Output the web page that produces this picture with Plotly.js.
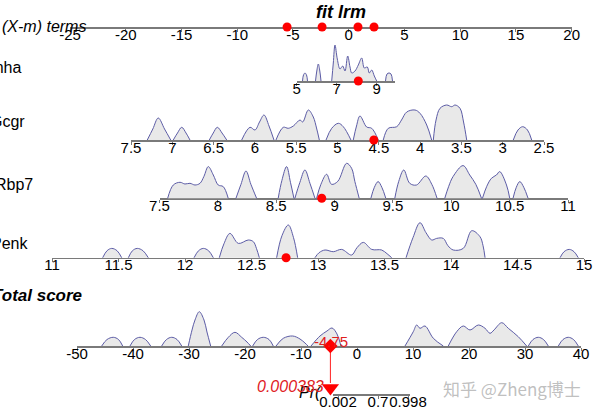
<!DOCTYPE html>
<html><head><meta charset="utf-8">
<script src="https://cdn.plot.ly/plotly-3.0.1.min.js"></script>
<style>html,body{margin:0;padding:0;background:#fff}#chart{width:600px;height:415px}</style>
</head><body><div id="chart"></div>
<script>
// ---------------- data ----------------
const pointsTicks = [-25,-20,-15,-10,-5,0,5,10,15,20];
const pointsRange = [-25, 20];
const termPoints = [-5.53, -2.39, 0.83, 2.27];

const enhaTicks = [5,7,9];
const enhaRange = [5, 9.915];
const enhaValue = 8.08;
const enhaX = [5.29,5.34,5.415,5.49,5.54,null,5.94,6.005,6.08,6.155,6.215,null,6.75,6.83,6.915,7.03,7.165,7.3,7.415,7.55,7.665,7.75,7.915,8.08,8.25,8.38,8.53,8.63,8.75,8.88,9.0,null,9.44,9.515,9.615,9.715,9.79];
const enhaD = [0,6,8,6,0,null,0,10,17,10,0,null,0,18,36,22,12,15,10,25,14,8,10,16,23,13,14,8,11,5,0,null,0,7,8,7,0];

const gcgrTicks = [7.5,7,6.5,6,5.5,5,4.5,4,3.5,3,2.5];
const gcgrRange = [7.5, 2.5];
const gcgrValue = 4.56;
const gcgrX = [7.303,7.236,7.170,7.094,7.019,null,6.988,6.937,6.886,6.834,6.786,null,6.552,6.504,6.455,6.398,6.341,null,6.160,6.059,5.999,5.944,5.890,5.829,5.769,null,5.745,5.656,5.596,5.535,5.454,5.421,5.353,5.293,5.254,5.220,null,5.139,5.070,4.990,4.930,4.837,null,4.809,4.770,4.728,4.647,4.586,4.506,null,4.446,4.385,4.283,4.225,4.162,4.062,4.001,3.920,3.860,null,3.840,3.807,3.759,3.678,3.617,3.577,3.517,3.474,3.436,null,2.872,2.815,2.758,2.700,2.649];
const gcgrD = [0,11,22,11,0,null,0,7,12.7,7,0,null,0,7,12.7,7,0,null,0,12.7,10,18,25,14,0,null,0,12.7,11.7,14,20,18,30,23,12,0,null,0,11.7,16.7,13.3,0,null,0,14,24,13,11.7,0,null,0,11.7,13.3,20,28,30,26.7,15,0,null,0,20,31.7,35,33.3,35,31.7,18,0,null,0,10,13.3,10,0];

const rbp7Ticks = [7.5,8,8.5,9,9.5,10,10.5,11];
const rbp7Range = [7.5, 11];
const rbp7Value = 8.89;
const rbp7X = [7.570,7.618,7.676,7.718,7.761,7.804,7.847,7.881,7.918,7.961,8.003,8.046,8.089,null,8.155,8.198,8.241,8.283,8.332,null,8.517,8.549,8.589,8.622,8.652,null,8.660,8.703,8.746,8.789,8.832,null,8.846,8.883,8.932,8.974,9.028,9.103,9.146,9.174,9.211,null,9.311,9.341,9.373,9.405,9.439,null,9.516,9.550,9.593,9.644,9.702,9.782,9.833,9.878,null,9.944,9.978,10.015,10.101,10.158,10.210,10.259,null,10.267,10.304,10.344,10.387,10.415,10.473,10.501,null,10.529,10.557,10.587,10.621,10.658];
const rbp7D = [0,13.3,16,14.3,15,13.3,15,22,31.7,23.3,13.3,11.7,0,null,0,14,27.3,14,0,null,0,18,31.7,16,0,null,0,16,28.3,15,0,null,0,14,24,14,17,35,30,16.7,0,null,0,11,16.7,11,0,null,0,17,28.3,15,13.3,22.3,14,0,null,0,12,21.7,32.7,23.3,14,0,null,0,12,20,23.3,26.7,13.3,0,null,0,11,16.7,11,0];

const penkTicks = [11,11.5,12,12.5,13,13.5,14,14.5,15];
const penkRange = [11, 15];
const penkValue = 12.76;
const penkX = [11.381,11.414,11.449,11.489,11.524,null,11.574,11.605,11.641,11.684,11.724,null,12.068,12.102,12.138,12.177,12.213,null,12.258,12.293,12.338,12.401,12.476,12.514,12.538,12.559,null,12.689,12.729,12.777,12.816,12.847,null,12.977,13.008,13.053,13.115,13.178,13.253,13.293,13.341,13.404,13.479,13.519,13.554,null,13.662,13.714,13.767,13.812,13.855,13.892,13.942,13.977,14.017,14.092,14.156,14.218,14.241,14.256,null,14.820,14.850,14.889,14.925,14.957];
const penkD = [0,7,9.3,7,0,null,0,7,9.3,7,0,null,0,7,9.3,7,0,null,0,14,24.3,14.3,17.7,16,9,0,null,0,22,32.7,20,0,null,0,5,7.7,6,8.3,2.7,10,15.3,8.3,7.7,4,0,null,0,20,35,25,17.7,19.3,19.3,12,7.7,9.3,27,21,12,0,null,0,6,8.3,6,0];

const totalTicks = [-50,-40,-30,-20,-10,0,10,20,30,40];
const totalRange = [-50, 40];
const totalValue = -4.75;
const totalLabel = '-4.75';
const totalX = [-45.59,-44.64,-43.52,-42.59,-41.84,null,-40.54,-39.73,-38.75,-37.77,-36.84,null,-34.88,-34.02,-33.09,-32.14,-31.30,null,-30.13,-29.46,-28.93,-28.16,-27.32,-26.79,-26.13,null,-24.16,-22.98,-21.79,-20.59,-19.64,-18.98,null,-18.63,-17.77,-16.73,-15.71,-14.95,null,-14.46,-13.16,-11.48,-10.18,-9.29,-8.75,null,-8.21,-6.61,-5.36,-4.46,-3.57,-2.86,null,8.57,10.05,10.66,11.25,12.14,13.63,15.41,null,16.30,17.80,18.98,20.18,21.66,22.86,23.75,24.46,25.84,27.02,28.80,30.30,null,30.59,31.43,32.38,33.30,34.16,null,35.95,36.79,37.73,38.66,39.52];
const totalD = [0,6.5,8.7,6.5,0,null,0,6.5,8.7,6.5,0,null,0,6.5,8.7,6.5,0,null,0,16,26,34.3,26,14,0,null,0,8.7,13.7,8.7,4,0,null,0,6.5,8.7,6.5,0,null,0,7.7,10,7,3,0,null,0,10,15,18,12,0,null,0,14.3,21,17.7,20,7.7,0,null,0,14.3,20,16,21,17.7,12.7,16,23.3,17.7,9.3,0,null,0,6.5,8.7,6.5,0,null,0,6.5,8.7,6.5,0];

const prRange = [-4.286, 9.464];          // in total-score units
const prTickScores = [-3.39, 3.75, 9.11];
const prTickLabels = ['0.002','0.7','0.998'];
const prValue = '0.000383';

const rowNames = ['(X-m) terms','Enha','Gcgr','Rbp7','Penk','Total score'];

// ---------------- layout helpers ----------------
const W = 600, H = 415;
const FONT = 'Liberation Sans, Arial, sans-serif';
const AXC = '#7a7a7a';
const rows = [
  {B:27,    x0:70,    x1:571.7, up:15, down:10, range:pointsRange, tv:pointsTicks},
  {B:81,    x0:296.7, x1:395,   up:45, down:10, range:enhaRange,   tv:enhaTicks},
  {B:140,   x0:131,   x1:544,   up:45, down:10, range:gcgrRange,   tv:gcgrTicks},
  {B:198.3, x0:159.5, x1:568,   up:45, down:10, range:rbp7Range,   tv:rbp7Ticks},
  {B:257.7, x0:52,    x1:584,   up:45, down:10, range:penkRange,   tv:penkTicks},
  {B:346,   x0:77,    x1:581,   up:45, down:55, range:totalRange,  tv:totalTicks},
  {B:394,   x0:333,   x1:410,   up:10, down:10, range:prRange,     tv:prTickScores, tt:prTickLabels}
];

const layout = {
  width: W, height: H,
  margin: {l:0, r:0, t:0, b:0, pad:0},
  paper_bgcolor: '#ffffff', plot_bgcolor: 'rgba(0,0,0,0)',
  showlegend: false,
  font: {family: FONT, color: '#000'},
  title: {text: '<b><i>fit lrm</i></b>', font: {family: FONT, size: 18, color: '#000'},
          x: 341/W, xanchor: 'center', xref: 'paper', y: 1 - 12/H, yanchor: 'middle'},
  annotations: []
};

rows.forEach((r, i) => {
  const k = i === 0 ? '' : String(i + 1);
  layout['xaxis' + k] = {
    domain: [r.x0 / W, r.x1 / W], range: r.range, anchor: 'free', position: (H - r.B) / H,
    showline: true, linecolor: AXC, linewidth: 1.6, ticks: 'outside', ticklen: 3, tickcolor: AXC, tickwidth: 1,
    tickmode: 'array', tickvals: r.tv, ticktext: r.tt || r.tv.map(String), tickangle: 0,
    tickfont: {family: FONT, size: 15, color: '#000'}, ticklabelstandoff: -10,
    showgrid: false, zeroline: false, fixedrange: true, layer: 'below traces'
  };
  layout['yaxis' + k] = {
    domain: [(H - (r.B + r.down)) / H, (H - (r.B - r.up)) / H], range: [-r.down, r.up],
    visible: false, fixedrange: true
  };
});

function segments(xs, ds) {
  const out = []; let cx = [], cy = [];
  xs.forEach((x, i) => {
    if (x === null) { if (cx.length) out.push([cx, cy]); cx = []; cy = []; }
    else { cx.push(x); cy.push(ds[i]); }
  });
  if (cx.length) out.push([cx, cy]);
  return out;
}

const traces = [];
const dens = [[enhaX, enhaD, 'x2', 'y2'], [gcgrX, gcgrD, 'x3', 'y3'], [rbp7X, rbp7D, 'x4', 'y4'],
              [penkX, penkD, 'x5', 'y5'], [totalX, totalD, 'x6', 'y6']];
dens.forEach(([xs, ds, xa, ya]) => {
  segments(xs, ds).forEach(([sx, sy]) => {
    traces.push({type: 'scatter', mode: 'lines', x: sx, y: sy, xaxis: xa, yaxis: ya,
      fill: 'tozeroy', fillcolor: '#e9e9e9',
      line: {color: '#5c5ca6', width: 1, shape: 'spline', smoothing: 1},
      hoverinfo: 'skip'});
  });
});

function dot(x, xa, ya) {
  return {type: 'scatter', mode: 'markers', x: x, y: x.map(() => 0), xaxis: xa, yaxis: ya,
    marker: {color: '#ff0000', size: 9}, cliponaxis: false, hoverinfo: 'skip'};
}
traces.push(dot(termPoints, 'x', 'y'));
traces.push(dot([enhaValue], 'x2', 'y2'));
traces.push(dot([gcgrValue], 'x3', 'y3'));
traces.push(dot([rbp7Value], 'x4', 'y4'));
traces.push(dot([penkValue], 'x5', 'y5'));
// invisible anchor trace so the probability axis subplot exists
traces.push({type: 'scatter', mode: 'markers', x: prTickScores, y: prTickScores.map(() => 0), xaxis: 'x7', yaxis: 'y7',
  marker: {opacity: 0, size: 1}, hoverinfo: 'skip'});

// total score -> probability link
traces.push({type: 'scatter', mode: 'lines', x: [totalValue, totalValue], y: [0, -37], xaxis: 'x6', yaxis: 'y6',
  line: {color: '#ff2020', width: 1}, hoverinfo: 'skip'});
traces.push({type: 'scatter', mode: 'markers', x: [totalValue], y: [-42], xaxis: 'x6', yaxis: 'y6',
  marker: {symbol: 'triangle-down', size: 15, color: '#ff0000'}, cliponaxis: false, hoverinfo: 'skip'});
traces.push({type: 'scatter', mode: 'markers', x: [totalValue], y: [0], xaxis: 'x6', yaxis: 'y6',
  marker: {symbol: 'diamond', size: 11, color: '#ff0000'}, cliponaxis: false, hoverinfo: 'skip'});

// annotations
const A = layout.annotations;
function pyf(px) { return (H - px) / H; }
A.push({text: '<i>' + rowNames[0] + '</i>', xref: 'paper', yref: 'paper', x: 0, xanchor: 'left', y: pyf(26), yanchor: 'middle',
  showarrow: false, font: {family: FONT, size: 16, color: '#000'}});
const labelPos = [[23, 67], [27, 121], [35, 184], [30, 243]];
labelPos.forEach(([rx, cy], i) => {
  A.push({text: rowNames[i + 1], xref: 'paper', yref: 'paper', x: rx / W, xanchor: 'right', y: pyf(cy), yanchor: 'middle',
    showarrow: false, font: {family: FONT, size: 16, color: '#000'}});
});
A.push({text: '<b><i>' + rowNames[5] + '</i></b>', xref: 'paper', yref: 'paper', x: 84 / W, xanchor: 'right', y: pyf(295), yanchor: 'middle',
  showarrow: false, font: {family: FONT, size: 17, color: '#000'}});
A.push({text: totalLabel, xref: 'x6', yref: 'y6', x: totalValue, y: 0, xanchor: 'center', yanchor: 'middle', xshift: 1, yshift: 5,
  showarrow: false, font: {family: FONT, size: 15, color: '#e0201e'}});
A.push({text: '<i>Pr(</i>', xref: 'paper', yref: 'paper', x: 297 / W, xanchor: 'left', y: pyf(392), yanchor: 'middle',
  showarrow: false, font: {family: FONT, size: 16, color: '#000'}});
A.push({text: '<i>' + prValue + '</i>', xref: 'x6', yref: 'y6', x: totalValue, y: -40, xanchor: 'right', yanchor: 'middle', xshift: -4,
  showarrow: false, font: {family: FONT, size: 16, color: '#e0201e'}});
A.push({text: '知乎 @Zheng博士', xref: 'paper', yref: 'paper', x: 583 / W, xanchor: 'right', y: pyf(388), yanchor: 'middle',
  showarrow: false, font: {family: 'Noto Sans CJK SC, Noto Sans, sans-serif', size: 17, color: 'rgba(175,175,175,0.8)'}});

Plotly.newPlot('chart', traces, layout, {displayModeBar: false, staticPlot: true});
</script>
</body></html>
